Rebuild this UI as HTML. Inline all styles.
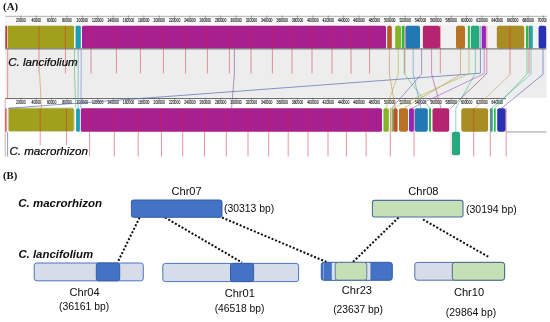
<!DOCTYPE html>
<html lang="en"><head><meta charset="utf-8"><title>Figure</title>
<style>html,body{margin:0;padding:0;background:#fff;}body{width:550px;height:322px;overflow:hidden;}svg{display:block;}.ss{font-family:"Liberation Sans",Arial,sans-serif;}.sf{font-family:"Liberation Serif","Times New Roman",serif;}</style></head><body>
<svg width="550" height="322" viewBox="0 0 550 322">
<rect width="550" height="322" fill="#fff"/>
<g id="panelA">
<rect x="5.3" y="16.0" width="541.2" height="81.8" fill="#ededed"/>
<rect x="5.3" y="16.0" width="541.2" height="33.0" fill="#f1f1f1"/>
<rect x="5.3" y="16.0" width="541.2" height="9.3" fill="#f8f8f8"/>
<line x1="5.3" y1="16.3" x2="546.5" y2="16.3" stroke="#a8a8a8" stroke-width="0.9"/>
<line x1="5.3" y1="98.6" x2="506" y2="98.6" stroke="#606060" stroke-width="1"/>
<clipPath id="cpA"><rect x="5.3" y="0" width="541.2" height="160"/></clipPath>
<g clip-path="url(#cpA)">
<text class="ss" x="16.1" y="21.6" font-size="5.3" textLength="9.5" lengthAdjust="spacingAndGlyphs" fill="#222" stroke="#222" stroke-width="0.15">20000</text>
<line x1="20.9" y1="15.5" x2="20.9" y2="18.900000000000002" stroke="#555" stroke-width="0.6" stroke-opacity="0.8"/>
<text class="ss" x="31.5" y="21.6" font-size="5.3" textLength="9.5" lengthAdjust="spacingAndGlyphs" fill="#222" stroke="#222" stroke-width="0.15">40000</text>
<line x1="36.2" y1="15.5" x2="36.2" y2="18.900000000000002" stroke="#555" stroke-width="0.6" stroke-opacity="0.8"/>
<text class="ss" x="46.9" y="21.6" font-size="5.3" textLength="9.5" lengthAdjust="spacingAndGlyphs" fill="#222" stroke="#222" stroke-width="0.15">60000</text>
<line x1="51.6" y1="15.5" x2="51.6" y2="18.900000000000002" stroke="#555" stroke-width="0.6" stroke-opacity="0.8"/>
<text class="ss" x="62.2" y="21.6" font-size="5.3" textLength="9.5" lengthAdjust="spacingAndGlyphs" fill="#222" stroke="#222" stroke-width="0.15">80000</text>
<line x1="67.0" y1="15.5" x2="67.0" y2="18.900000000000002" stroke="#555" stroke-width="0.6" stroke-opacity="0.8"/>
<text class="ss" x="76.6" y="21.6" font-size="5.3" textLength="11.4" lengthAdjust="spacingAndGlyphs" fill="#222" stroke="#222" stroke-width="0.15">100000</text>
<line x1="82.3" y1="15.5" x2="82.3" y2="18.900000000000002" stroke="#555" stroke-width="0.6" stroke-opacity="0.8"/>
<text class="ss" x="92.0" y="21.6" font-size="5.3" textLength="11.4" lengthAdjust="spacingAndGlyphs" fill="#222" stroke="#222" stroke-width="0.15">120000</text>
<line x1="97.7" y1="15.5" x2="97.7" y2="18.900000000000002" stroke="#555" stroke-width="0.6" stroke-opacity="0.8"/>
<text class="ss" x="107.4" y="21.6" font-size="5.3" textLength="11.4" lengthAdjust="spacingAndGlyphs" fill="#222" stroke="#222" stroke-width="0.15">140000</text>
<line x1="113.1" y1="15.5" x2="113.1" y2="18.900000000000002" stroke="#555" stroke-width="0.6" stroke-opacity="0.8"/>
<text class="ss" x="122.8" y="21.6" font-size="5.3" textLength="11.4" lengthAdjust="spacingAndGlyphs" fill="#222" stroke="#222" stroke-width="0.15">160000</text>
<line x1="128.5" y1="15.5" x2="128.5" y2="18.900000000000002" stroke="#555" stroke-width="0.6" stroke-opacity="0.8"/>
<text class="ss" x="138.1" y="21.6" font-size="5.3" textLength="11.4" lengthAdjust="spacingAndGlyphs" fill="#222" stroke="#222" stroke-width="0.15">180000</text>
<line x1="143.8" y1="15.5" x2="143.8" y2="18.900000000000002" stroke="#555" stroke-width="0.6" stroke-opacity="0.8"/>
<text class="ss" x="153.5" y="21.6" font-size="5.3" textLength="11.4" lengthAdjust="spacingAndGlyphs" fill="#222" stroke="#222" stroke-width="0.15">200000</text>
<line x1="159.2" y1="15.5" x2="159.2" y2="18.900000000000002" stroke="#555" stroke-width="0.6" stroke-opacity="0.8"/>
<text class="ss" x="168.9" y="21.6" font-size="5.3" textLength="11.4" lengthAdjust="spacingAndGlyphs" fill="#222" stroke="#222" stroke-width="0.15">220000</text>
<line x1="174.6" y1="15.5" x2="174.6" y2="18.900000000000002" stroke="#555" stroke-width="0.6" stroke-opacity="0.8"/>
<text class="ss" x="184.2" y="21.6" font-size="5.3" textLength="11.4" lengthAdjust="spacingAndGlyphs" fill="#222" stroke="#222" stroke-width="0.15">240000</text>
<line x1="189.9" y1="15.5" x2="189.9" y2="18.900000000000002" stroke="#555" stroke-width="0.6" stroke-opacity="0.8"/>
<text class="ss" x="199.6" y="21.6" font-size="5.3" textLength="11.4" lengthAdjust="spacingAndGlyphs" fill="#222" stroke="#222" stroke-width="0.15">260000</text>
<line x1="205.3" y1="15.5" x2="205.3" y2="18.900000000000002" stroke="#555" stroke-width="0.6" stroke-opacity="0.8"/>
<text class="ss" x="215.0" y="21.6" font-size="5.3" textLength="11.4" lengthAdjust="spacingAndGlyphs" fill="#222" stroke="#222" stroke-width="0.15">280000</text>
<line x1="220.7" y1="15.5" x2="220.7" y2="18.900000000000002" stroke="#555" stroke-width="0.6" stroke-opacity="0.8"/>
<text class="ss" x="230.3" y="21.6" font-size="5.3" textLength="11.4" lengthAdjust="spacingAndGlyphs" fill="#222" stroke="#222" stroke-width="0.15">300000</text>
<line x1="236.0" y1="15.5" x2="236.0" y2="18.900000000000002" stroke="#555" stroke-width="0.6" stroke-opacity="0.8"/>
<text class="ss" x="245.7" y="21.6" font-size="5.3" textLength="11.4" lengthAdjust="spacingAndGlyphs" fill="#222" stroke="#222" stroke-width="0.15">320000</text>
<line x1="251.4" y1="15.5" x2="251.4" y2="18.900000000000002" stroke="#555" stroke-width="0.6" stroke-opacity="0.8"/>
<text class="ss" x="261.1" y="21.6" font-size="5.3" textLength="11.4" lengthAdjust="spacingAndGlyphs" fill="#222" stroke="#222" stroke-width="0.15">340000</text>
<line x1="266.8" y1="15.5" x2="266.8" y2="18.900000000000002" stroke="#555" stroke-width="0.6" stroke-opacity="0.8"/>
<text class="ss" x="276.5" y="21.6" font-size="5.3" textLength="11.4" lengthAdjust="spacingAndGlyphs" fill="#222" stroke="#222" stroke-width="0.15">360000</text>
<line x1="282.2" y1="15.5" x2="282.2" y2="18.900000000000002" stroke="#555" stroke-width="0.6" stroke-opacity="0.8"/>
<text class="ss" x="291.8" y="21.6" font-size="5.3" textLength="11.4" lengthAdjust="spacingAndGlyphs" fill="#222" stroke="#222" stroke-width="0.15">380000</text>
<line x1="297.5" y1="15.5" x2="297.5" y2="18.900000000000002" stroke="#555" stroke-width="0.6" stroke-opacity="0.8"/>
<text class="ss" x="307.2" y="21.6" font-size="5.3" textLength="11.4" lengthAdjust="spacingAndGlyphs" fill="#222" stroke="#222" stroke-width="0.15">400000</text>
<line x1="312.9" y1="15.5" x2="312.9" y2="18.900000000000002" stroke="#555" stroke-width="0.6" stroke-opacity="0.8"/>
<text class="ss" x="322.6" y="21.6" font-size="5.3" textLength="11.4" lengthAdjust="spacingAndGlyphs" fill="#222" stroke="#222" stroke-width="0.15">420000</text>
<line x1="328.3" y1="15.5" x2="328.3" y2="18.900000000000002" stroke="#555" stroke-width="0.6" stroke-opacity="0.8"/>
<text class="ss" x="337.9" y="21.6" font-size="5.3" textLength="11.4" lengthAdjust="spacingAndGlyphs" fill="#222" stroke="#222" stroke-width="0.15">440000</text>
<line x1="343.6" y1="15.5" x2="343.6" y2="18.900000000000002" stroke="#555" stroke-width="0.6" stroke-opacity="0.8"/>
<text class="ss" x="353.3" y="21.6" font-size="5.3" textLength="11.4" lengthAdjust="spacingAndGlyphs" fill="#222" stroke="#222" stroke-width="0.15">460000</text>
<line x1="359.0" y1="15.5" x2="359.0" y2="18.900000000000002" stroke="#555" stroke-width="0.6" stroke-opacity="0.8"/>
<text class="ss" x="368.7" y="21.6" font-size="5.3" textLength="11.4" lengthAdjust="spacingAndGlyphs" fill="#222" stroke="#222" stroke-width="0.15">480000</text>
<line x1="374.4" y1="15.5" x2="374.4" y2="18.900000000000002" stroke="#555" stroke-width="0.6" stroke-opacity="0.8"/>
<text class="ss" x="384.1" y="21.6" font-size="5.3" textLength="11.4" lengthAdjust="spacingAndGlyphs" fill="#222" stroke="#222" stroke-width="0.15">500000</text>
<line x1="389.8" y1="15.5" x2="389.8" y2="18.900000000000002" stroke="#555" stroke-width="0.6" stroke-opacity="0.8"/>
<text class="ss" x="399.4" y="21.6" font-size="5.3" textLength="11.4" lengthAdjust="spacingAndGlyphs" fill="#222" stroke="#222" stroke-width="0.15">520000</text>
<line x1="405.1" y1="15.5" x2="405.1" y2="18.900000000000002" stroke="#555" stroke-width="0.6" stroke-opacity="0.8"/>
<text class="ss" x="414.8" y="21.6" font-size="5.3" textLength="11.4" lengthAdjust="spacingAndGlyphs" fill="#222" stroke="#222" stroke-width="0.15">540000</text>
<line x1="420.5" y1="15.5" x2="420.5" y2="18.900000000000002" stroke="#555" stroke-width="0.6" stroke-opacity="0.8"/>
<text class="ss" x="430.2" y="21.6" font-size="5.3" textLength="11.4" lengthAdjust="spacingAndGlyphs" fill="#222" stroke="#222" stroke-width="0.15">560000</text>
<line x1="435.9" y1="15.5" x2="435.9" y2="18.900000000000002" stroke="#555" stroke-width="0.6" stroke-opacity="0.8"/>
<text class="ss" x="445.5" y="21.6" font-size="5.3" textLength="11.4" lengthAdjust="spacingAndGlyphs" fill="#222" stroke="#222" stroke-width="0.15">580000</text>
<line x1="451.2" y1="15.5" x2="451.2" y2="18.900000000000002" stroke="#555" stroke-width="0.6" stroke-opacity="0.8"/>
<text class="ss" x="460.9" y="21.6" font-size="5.3" textLength="11.4" lengthAdjust="spacingAndGlyphs" fill="#222" stroke="#222" stroke-width="0.15">600000</text>
<line x1="466.6" y1="15.5" x2="466.6" y2="18.900000000000002" stroke="#555" stroke-width="0.6" stroke-opacity="0.8"/>
<text class="ss" x="476.3" y="21.6" font-size="5.3" textLength="11.4" lengthAdjust="spacingAndGlyphs" fill="#222" stroke="#222" stroke-width="0.15">620000</text>
<line x1="482.0" y1="15.5" x2="482.0" y2="18.900000000000002" stroke="#555" stroke-width="0.6" stroke-opacity="0.8"/>
<text class="ss" x="491.6" y="21.6" font-size="5.3" textLength="11.4" lengthAdjust="spacingAndGlyphs" fill="#222" stroke="#222" stroke-width="0.15">640000</text>
<line x1="497.3" y1="15.5" x2="497.3" y2="18.900000000000002" stroke="#555" stroke-width="0.6" stroke-opacity="0.8"/>
<text class="ss" x="507.0" y="21.6" font-size="5.3" textLength="11.4" lengthAdjust="spacingAndGlyphs" fill="#222" stroke="#222" stroke-width="0.15">660000</text>
<line x1="512.7" y1="15.5" x2="512.7" y2="18.900000000000002" stroke="#555" stroke-width="0.6" stroke-opacity="0.8"/>
<text class="ss" x="522.4" y="21.6" font-size="5.3" textLength="11.4" lengthAdjust="spacingAndGlyphs" fill="#222" stroke="#222" stroke-width="0.15">680000</text>
<line x1="528.1" y1="15.5" x2="528.1" y2="18.900000000000002" stroke="#555" stroke-width="0.6" stroke-opacity="0.8"/>
<text class="ss" x="537.7" y="21.6" font-size="5.3" textLength="11.4" lengthAdjust="spacingAndGlyphs" fill="#222" stroke="#222" stroke-width="0.15">700000</text>
<line x1="543.4" y1="15.5" x2="543.4" y2="18.900000000000002" stroke="#555" stroke-width="0.6" stroke-opacity="0.8"/>
<text class="ss" x="16.1" y="103.9" font-size="5.3" textLength="9.5" lengthAdjust="spacingAndGlyphs" fill="#222" stroke="#222" stroke-width="0.15">20000</text>
<line x1="20.9" y1="97.8" x2="20.9" y2="101.19999999999999" stroke="#555" stroke-width="0.6" stroke-opacity="0.8"/>
<text class="ss" x="31.5" y="103.9" font-size="5.3" textLength="9.5" lengthAdjust="spacingAndGlyphs" fill="#222" stroke="#222" stroke-width="0.15">40000</text>
<line x1="36.2" y1="97.8" x2="36.2" y2="101.19999999999999" stroke="#555" stroke-width="0.6" stroke-opacity="0.8"/>
<text class="ss" x="46.9" y="103.9" font-size="5.3" textLength="9.5" lengthAdjust="spacingAndGlyphs" fill="#222" stroke="#222" stroke-width="0.15">60000</text>
<line x1="51.6" y1="97.8" x2="51.6" y2="101.19999999999999" stroke="#555" stroke-width="0.6" stroke-opacity="0.8"/>
<text class="ss" x="62.2" y="103.9" font-size="5.3" textLength="9.5" lengthAdjust="spacingAndGlyphs" fill="#222" stroke="#222" stroke-width="0.15">80000</text>
<line x1="67.0" y1="97.8" x2="67.0" y2="101.19999999999999" stroke="#555" stroke-width="0.6" stroke-opacity="0.8"/>
<text class="ss" x="76.6" y="103.9" font-size="5.3" textLength="11.4" lengthAdjust="spacingAndGlyphs" fill="#222" stroke="#222" stroke-width="0.15">100000</text>
<line x1="82.3" y1="97.8" x2="82.3" y2="101.19999999999999" stroke="#555" stroke-width="0.6" stroke-opacity="0.8"/>
<text class="ss" x="92.0" y="103.9" font-size="5.3" textLength="11.4" lengthAdjust="spacingAndGlyphs" fill="#222" stroke="#222" stroke-width="0.15">120000</text>
<line x1="97.7" y1="97.8" x2="97.7" y2="101.19999999999999" stroke="#555" stroke-width="0.6" stroke-opacity="0.8"/>
<text class="ss" x="107.4" y="103.9" font-size="5.3" textLength="11.4" lengthAdjust="spacingAndGlyphs" fill="#222" stroke="#222" stroke-width="0.15">140000</text>
<line x1="113.1" y1="97.8" x2="113.1" y2="101.19999999999999" stroke="#555" stroke-width="0.6" stroke-opacity="0.8"/>
<text class="ss" x="122.8" y="103.9" font-size="5.3" textLength="11.4" lengthAdjust="spacingAndGlyphs" fill="#222" stroke="#222" stroke-width="0.15">160000</text>
<line x1="128.5" y1="97.8" x2="128.5" y2="101.19999999999999" stroke="#555" stroke-width="0.6" stroke-opacity="0.8"/>
<text class="ss" x="138.1" y="103.9" font-size="5.3" textLength="11.4" lengthAdjust="spacingAndGlyphs" fill="#222" stroke="#222" stroke-width="0.15">180000</text>
<line x1="143.8" y1="97.8" x2="143.8" y2="101.19999999999999" stroke="#555" stroke-width="0.6" stroke-opacity="0.8"/>
<text class="ss" x="153.5" y="103.9" font-size="5.3" textLength="11.4" lengthAdjust="spacingAndGlyphs" fill="#222" stroke="#222" stroke-width="0.15">200000</text>
<line x1="159.2" y1="97.8" x2="159.2" y2="101.19999999999999" stroke="#555" stroke-width="0.6" stroke-opacity="0.8"/>
<text class="ss" x="168.9" y="103.9" font-size="5.3" textLength="11.4" lengthAdjust="spacingAndGlyphs" fill="#222" stroke="#222" stroke-width="0.15">220000</text>
<line x1="174.6" y1="97.8" x2="174.6" y2="101.19999999999999" stroke="#555" stroke-width="0.6" stroke-opacity="0.8"/>
<text class="ss" x="184.2" y="103.9" font-size="5.3" textLength="11.4" lengthAdjust="spacingAndGlyphs" fill="#222" stroke="#222" stroke-width="0.15">240000</text>
<line x1="189.9" y1="97.8" x2="189.9" y2="101.19999999999999" stroke="#555" stroke-width="0.6" stroke-opacity="0.8"/>
<text class="ss" x="199.6" y="103.9" font-size="5.3" textLength="11.4" lengthAdjust="spacingAndGlyphs" fill="#222" stroke="#222" stroke-width="0.15">260000</text>
<line x1="205.3" y1="97.8" x2="205.3" y2="101.19999999999999" stroke="#555" stroke-width="0.6" stroke-opacity="0.8"/>
<text class="ss" x="215.0" y="103.9" font-size="5.3" textLength="11.4" lengthAdjust="spacingAndGlyphs" fill="#222" stroke="#222" stroke-width="0.15">280000</text>
<line x1="220.7" y1="97.8" x2="220.7" y2="101.19999999999999" stroke="#555" stroke-width="0.6" stroke-opacity="0.8"/>
<text class="ss" x="230.3" y="103.9" font-size="5.3" textLength="11.4" lengthAdjust="spacingAndGlyphs" fill="#222" stroke="#222" stroke-width="0.15">300000</text>
<line x1="236.0" y1="97.8" x2="236.0" y2="101.19999999999999" stroke="#555" stroke-width="0.6" stroke-opacity="0.8"/>
<text class="ss" x="245.7" y="103.9" font-size="5.3" textLength="11.4" lengthAdjust="spacingAndGlyphs" fill="#222" stroke="#222" stroke-width="0.15">320000</text>
<line x1="251.4" y1="97.8" x2="251.4" y2="101.19999999999999" stroke="#555" stroke-width="0.6" stroke-opacity="0.8"/>
<text class="ss" x="261.1" y="103.9" font-size="5.3" textLength="11.4" lengthAdjust="spacingAndGlyphs" fill="#222" stroke="#222" stroke-width="0.15">340000</text>
<line x1="266.8" y1="97.8" x2="266.8" y2="101.19999999999999" stroke="#555" stroke-width="0.6" stroke-opacity="0.8"/>
<text class="ss" x="276.5" y="103.9" font-size="5.3" textLength="11.4" lengthAdjust="spacingAndGlyphs" fill="#222" stroke="#222" stroke-width="0.15">360000</text>
<line x1="282.2" y1="97.8" x2="282.2" y2="101.19999999999999" stroke="#555" stroke-width="0.6" stroke-opacity="0.8"/>
<text class="ss" x="291.8" y="103.9" font-size="5.3" textLength="11.4" lengthAdjust="spacingAndGlyphs" fill="#222" stroke="#222" stroke-width="0.15">380000</text>
<line x1="297.5" y1="97.8" x2="297.5" y2="101.19999999999999" stroke="#555" stroke-width="0.6" stroke-opacity="0.8"/>
<text class="ss" x="307.2" y="103.9" font-size="5.3" textLength="11.4" lengthAdjust="spacingAndGlyphs" fill="#222" stroke="#222" stroke-width="0.15">400000</text>
<line x1="312.9" y1="97.8" x2="312.9" y2="101.19999999999999" stroke="#555" stroke-width="0.6" stroke-opacity="0.8"/>
<text class="ss" x="322.6" y="103.9" font-size="5.3" textLength="11.4" lengthAdjust="spacingAndGlyphs" fill="#222" stroke="#222" stroke-width="0.15">420000</text>
<line x1="328.3" y1="97.8" x2="328.3" y2="101.19999999999999" stroke="#555" stroke-width="0.6" stroke-opacity="0.8"/>
<text class="ss" x="337.9" y="103.9" font-size="5.3" textLength="11.4" lengthAdjust="spacingAndGlyphs" fill="#222" stroke="#222" stroke-width="0.15">440000</text>
<line x1="343.6" y1="97.8" x2="343.6" y2="101.19999999999999" stroke="#555" stroke-width="0.6" stroke-opacity="0.8"/>
<text class="ss" x="353.3" y="103.9" font-size="5.3" textLength="11.4" lengthAdjust="spacingAndGlyphs" fill="#222" stroke="#222" stroke-width="0.15">460000</text>
<line x1="359.0" y1="97.8" x2="359.0" y2="101.19999999999999" stroke="#555" stroke-width="0.6" stroke-opacity="0.8"/>
<text class="ss" x="368.7" y="103.9" font-size="5.3" textLength="11.4" lengthAdjust="spacingAndGlyphs" fill="#222" stroke="#222" stroke-width="0.15">480000</text>
<line x1="374.4" y1="97.8" x2="374.4" y2="101.19999999999999" stroke="#555" stroke-width="0.6" stroke-opacity="0.8"/>
<text class="ss" x="384.1" y="103.9" font-size="5.3" textLength="11.4" lengthAdjust="spacingAndGlyphs" fill="#222" stroke="#222" stroke-width="0.15">500000</text>
<line x1="389.8" y1="97.8" x2="389.8" y2="101.19999999999999" stroke="#555" stroke-width="0.6" stroke-opacity="0.8"/>
<text class="ss" x="399.4" y="103.9" font-size="5.3" textLength="11.4" lengthAdjust="spacingAndGlyphs" fill="#222" stroke="#222" stroke-width="0.15">520000</text>
<line x1="405.1" y1="97.8" x2="405.1" y2="101.19999999999999" stroke="#555" stroke-width="0.6" stroke-opacity="0.8"/>
<text class="ss" x="414.8" y="103.9" font-size="5.3" textLength="11.4" lengthAdjust="spacingAndGlyphs" fill="#222" stroke="#222" stroke-width="0.15">540000</text>
<line x1="420.5" y1="97.8" x2="420.5" y2="101.19999999999999" stroke="#555" stroke-width="0.6" stroke-opacity="0.8"/>
<text class="ss" x="430.2" y="103.9" font-size="5.3" textLength="11.4" lengthAdjust="spacingAndGlyphs" fill="#222" stroke="#222" stroke-width="0.15">560000</text>
<line x1="435.9" y1="97.8" x2="435.9" y2="101.19999999999999" stroke="#555" stroke-width="0.6" stroke-opacity="0.8"/>
<text class="ss" x="445.5" y="103.9" font-size="5.3" textLength="11.4" lengthAdjust="spacingAndGlyphs" fill="#222" stroke="#222" stroke-width="0.15">580000</text>
<line x1="451.2" y1="97.8" x2="451.2" y2="101.19999999999999" stroke="#555" stroke-width="0.6" stroke-opacity="0.8"/>
<text class="ss" x="460.9" y="103.9" font-size="5.3" textLength="11.4" lengthAdjust="spacingAndGlyphs" fill="#222" stroke="#222" stroke-width="0.15">600000</text>
<line x1="466.6" y1="97.8" x2="466.6" y2="101.19999999999999" stroke="#555" stroke-width="0.6" stroke-opacity="0.8"/>
<text class="ss" x="476.3" y="103.9" font-size="5.3" textLength="11.4" lengthAdjust="spacingAndGlyphs" fill="#222" stroke="#222" stroke-width="0.15">620000</text>
<line x1="482.0" y1="97.8" x2="482.0" y2="101.19999999999999" stroke="#555" stroke-width="0.6" stroke-opacity="0.8"/>
<text class="ss" x="491.6" y="103.9" font-size="5.3" textLength="11.4" lengthAdjust="spacingAndGlyphs" fill="#222" stroke="#222" stroke-width="0.15">640000</text>
<line x1="497.3" y1="97.8" x2="497.3" y2="101.19999999999999" stroke="#555" stroke-width="0.6" stroke-opacity="0.8"/>
</g>
<rect x="5.3" y="25.8" width="1.7" height="23.0" rx="0.3" ry="0.3" fill="#c8373c"/>
<rect x="7.6" y="25.8" width="66.4" height="23.0" rx="1.2" ry="1.2" fill="#a0a01c"/>
<rect x="75.6" y="25.8" width="5.2" height="23.0" rx="1.4" ry="1.4" fill="#1c9eb4"/>
<rect x="82.0" y="25.8" width="304.0" height="23.0" rx="1.6" ry="1.6" fill="#a81f90"/>
<rect x="387.2" y="25.8" width="4.6" height="23.0" rx="1.6" ry="1.6" fill="#bc5428"/>
<rect x="395.2" y="25.8" width="5.8" height="23.0" rx="1.6" ry="1.6" fill="#86b428"/>
<rect x="401.8" y="25.8" width="2.4" height="23.0" rx="0.8" ry="0.8" fill="#2cba3c"/>
<rect x="405.5" y="25.8" width="14.5" height="23.0" rx="2.0" ry="2.0" fill="#2278b4"/>
<rect x="422.9" y="25.8" width="17.1" height="23.0" rx="2.0" ry="2.0" fill="#b42470"/>
<rect x="456.0" y="25.8" width="9.0" height="23.0" rx="2.0" ry="2.0" fill="#b87424"/>
<rect x="467.9" y="25.8" width="1.9" height="23.0" rx="0.6" ry="0.6" fill="#2cba3c"/>
<rect x="470.8" y="25.8" width="8.5" height="23.0" rx="1.6" ry="1.6" fill="#24aa7c"/>
<rect x="479.6" y="25.8" width="1.7" height="23.0" rx="0.5" ry="0.5" fill="#a8b4d0"/>
<rect x="481.8" y="25.8" width="4.1" height="23.0" rx="1.6" ry="1.6" fill="#9824c0"/>
<rect x="496.8" y="25.8" width="27.4" height="23.0" rx="2.2" ry="2.2" fill="#aa8c24"/>
<rect x="526.0" y="25.8" width="2.0" height="23.0" rx="0.6" ry="0.6" fill="#2cba3c"/>
<rect x="528.7" y="25.8" width="4.1" height="23.0" rx="1.2" ry="1.2" fill="#20aaa2"/>
<rect x="538.6" y="25.8" width="7.6" height="23.0" rx="2.0" ry="2.0" fill="#2830b4"/>
<line x1="5.3" y1="48.9" x2="546.5" y2="48.9" stroke="#808080" stroke-width="1.3"/>
<line x1="39.0" y1="25.8" x2="39.0" y2="49.0" stroke="#e02030" stroke-width="0.8" stroke-opacity="0.6"/>
<line x1="39.0" y1="49.0" x2="39.0" y2="73.5" stroke="#d04858" stroke-width="0.8" stroke-opacity="0.72"/>
<line x1="65.4" y1="25.8" x2="65.4" y2="49.0" stroke="#e02030" stroke-width="0.8" stroke-opacity="0.6"/>
<line x1="65.4" y1="49.0" x2="65.4" y2="73.5" stroke="#d04858" stroke-width="0.8" stroke-opacity="0.72"/>
<line x1="91.0" y1="25.8" x2="91.0" y2="49.0" stroke="#e02030" stroke-width="0.8" stroke-opacity="0.6"/>
<line x1="91.0" y1="49.0" x2="91.0" y2="73.5" stroke="#d04858" stroke-width="0.8" stroke-opacity="0.72"/>
<line x1="116.4" y1="25.8" x2="116.4" y2="49.0" stroke="#e02030" stroke-width="0.8" stroke-opacity="0.6"/>
<line x1="116.4" y1="49.0" x2="116.4" y2="73.5" stroke="#d04858" stroke-width="0.8" stroke-opacity="0.72"/>
<line x1="140.4" y1="25.8" x2="140.4" y2="49.0" stroke="#e02030" stroke-width="0.8" stroke-opacity="0.6"/>
<line x1="140.4" y1="49.0" x2="140.4" y2="73.5" stroke="#d04858" stroke-width="0.8" stroke-opacity="0.72"/>
<line x1="163.4" y1="25.8" x2="163.4" y2="49.0" stroke="#e02030" stroke-width="0.8" stroke-opacity="0.6"/>
<line x1="163.4" y1="49.0" x2="163.4" y2="73.5" stroke="#d04858" stroke-width="0.8" stroke-opacity="0.72"/>
<line x1="185.6" y1="25.8" x2="185.6" y2="49.0" stroke="#e02030" stroke-width="0.8" stroke-opacity="0.6"/>
<line x1="185.6" y1="49.0" x2="185.6" y2="73.5" stroke="#d04858" stroke-width="0.8" stroke-opacity="0.72"/>
<line x1="207.4" y1="25.8" x2="207.4" y2="49.0" stroke="#e02030" stroke-width="0.8" stroke-opacity="0.6"/>
<line x1="207.4" y1="49.0" x2="207.4" y2="73.5" stroke="#d04858" stroke-width="0.8" stroke-opacity="0.72"/>
<line x1="229.4" y1="25.8" x2="229.4" y2="49.0" stroke="#e02030" stroke-width="0.8" stroke-opacity="0.6"/>
<line x1="229.4" y1="49.0" x2="229.4" y2="73.5" stroke="#d04858" stroke-width="0.8" stroke-opacity="0.72"/>
<line x1="251.0" y1="25.8" x2="251.0" y2="49.0" stroke="#e02030" stroke-width="0.8" stroke-opacity="0.6"/>
<line x1="251.0" y1="49.0" x2="251.0" y2="73.5" stroke="#d04858" stroke-width="0.8" stroke-opacity="0.72"/>
<line x1="272.4" y1="25.8" x2="272.4" y2="49.0" stroke="#e02030" stroke-width="0.8" stroke-opacity="0.6"/>
<line x1="272.4" y1="49.0" x2="272.4" y2="73.5" stroke="#d04858" stroke-width="0.8" stroke-opacity="0.72"/>
<line x1="292.0" y1="25.8" x2="292.0" y2="49.0" stroke="#e02030" stroke-width="0.8" stroke-opacity="0.6"/>
<line x1="292.0" y1="49.0" x2="292.0" y2="73.5" stroke="#d04858" stroke-width="0.8" stroke-opacity="0.72"/>
<line x1="312.0" y1="25.8" x2="312.0" y2="49.0" stroke="#e02030" stroke-width="0.8" stroke-opacity="0.6"/>
<line x1="312.0" y1="49.0" x2="312.0" y2="73.5" stroke="#d04858" stroke-width="0.8" stroke-opacity="0.72"/>
<line x1="332.0" y1="25.8" x2="332.0" y2="49.0" stroke="#e02030" stroke-width="0.8" stroke-opacity="0.6"/>
<line x1="332.0" y1="49.0" x2="332.0" y2="73.5" stroke="#d04858" stroke-width="0.8" stroke-opacity="0.72"/>
<line x1="351.0" y1="25.8" x2="351.0" y2="49.0" stroke="#e02030" stroke-width="0.8" stroke-opacity="0.6"/>
<line x1="351.0" y1="49.0" x2="351.0" y2="73.5" stroke="#d04858" stroke-width="0.8" stroke-opacity="0.72"/>
<line x1="369.6" y1="25.8" x2="369.6" y2="49.0" stroke="#e02030" stroke-width="0.8" stroke-opacity="0.6"/>
<line x1="369.6" y1="49.0" x2="369.6" y2="73.5" stroke="#d04858" stroke-width="0.8" stroke-opacity="0.72"/>
<line x1="404.8" y1="25.8" x2="404.8" y2="49.0" stroke="#e02030" stroke-width="0.8" stroke-opacity="0.6"/>
<line x1="404.8" y1="49.0" x2="404.8" y2="73.5" stroke="#d04858" stroke-width="0.8" stroke-opacity="0.72"/>
<line x1="440.3" y1="25.8" x2="440.3" y2="49.0" stroke="#e02030" stroke-width="0.8" stroke-opacity="0.6"/>
<line x1="440.3" y1="49.0" x2="440.3" y2="73.5" stroke="#d04858" stroke-width="0.8" stroke-opacity="0.72"/>
<line x1="486.8" y1="25.8" x2="486.8" y2="49.0" stroke="#e02030" stroke-width="0.8" stroke-opacity="0.6"/>
<line x1="486.8" y1="49.0" x2="486.8" y2="73.5" stroke="#d04858" stroke-width="0.8" stroke-opacity="0.72"/>
<line x1="510.0" y1="25.8" x2="510.0" y2="49.0" stroke="#e02030" stroke-width="0.8" stroke-opacity="0.6"/>
<line x1="510.0" y1="49.0" x2="510.0" y2="73.5" stroke="#d04858" stroke-width="0.8" stroke-opacity="0.72"/>
<line x1="529.0" y1="25.8" x2="529.0" y2="49.0" stroke="#e02030" stroke-width="0.8" stroke-opacity="0.6"/>
<line x1="529.0" y1="49.0" x2="529.0" y2="73.5" stroke="#d04858" stroke-width="0.8" stroke-opacity="0.72"/>
<line x1="506.2" y1="131.9" x2="546.5" y2="131.9" stroke="#c6c6c6" stroke-width="1.7"/>
<rect x="5.0" y="108.3" width="1.5" height="23.5" rx="0.3" ry="0.3" fill="#c8373c"/>
<rect x="80.8" y="108.3" width="301.2" height="23.5" rx="1.6" ry="1.6" fill="#a81f90"/>
<rect x="383.4" y="108.3" width="5.4" height="23.5" rx="1.6" ry="1.6" fill="#86b428"/>
<rect x="390.8" y="108.3" width="0.7" height="23.5" rx="0.2" ry="0.2" fill="#86b428"/>
<rect x="392.0" y="108.3" width="0.8" height="23.5" rx="0.2" ry="0.2" fill="#2cba3c"/>
<rect x="393.2" y="108.3" width="4.4" height="23.5" rx="1.6" ry="1.6" fill="#bc5428"/>
<rect x="399.0" y="108.3" width="9.0" height="23.5" rx="2.0" ry="2.0" fill="#b87424"/>
<rect x="409.0" y="108.3" width="4.9" height="23.5" rx="1.8" ry="1.8" fill="#9824c0"/>
<rect x="414.7" y="108.3" width="13.1" height="23.5" rx="2.0" ry="2.0" fill="#2278b4"/>
<rect x="429.0" y="108.3" width="2.0" height="23.5" rx="0.7" ry="0.7" fill="#2cba3c"/>
<rect x="432.5" y="108.3" width="16.7" height="23.5" rx="2.0" ry="2.0" fill="#b42470"/>
<rect x="461.3" y="108.3" width="26.8" height="23.5" rx="2.2" ry="2.2" fill="#aa8c24"/>
<rect x="490.2" y="108.3" width="2.6" height="23.5" rx="1.0" ry="1.0" fill="#20aaa2"/>
<rect x="494.0" y="108.3" width="1.7" height="23.5" rx="0.6" ry="0.6" fill="#2cba3c"/>
<rect x="497.2" y="108.3" width="8.4" height="23.5" rx="2.2" ry="2.2" fill="#2830b4"/>
<rect x="8.2" y="107.9" width="66.0" height="23.7" rx="2.0" ry="2.0" fill="#a0a01c" stroke="#d4d8c4" stroke-width="1"/>
<rect x="76.1" y="108.3" width="3.8" height="23.5" rx="1.6" ry="1.6" fill="#1c9eb4"/>
<rect x="452.0" y="131.8" width="8.0" height="23.4" rx="1.8" ry="1.8" fill="#24aa7c"/>
<line x1="40.2" y1="108.3" x2="40.2" y2="131.8" stroke="#e02030" stroke-width="0.8" stroke-opacity="0.6"/>
<line x1="40.2" y1="131.8" x2="40.2" y2="156.5" stroke="#d04858" stroke-width="0.8" stroke-opacity="0.72"/>
<line x1="66.4" y1="108.3" x2="66.4" y2="131.8" stroke="#e02030" stroke-width="0.8" stroke-opacity="0.6"/>
<line x1="66.4" y1="131.8" x2="66.4" y2="156.5" stroke="#d04858" stroke-width="0.8" stroke-opacity="0.72"/>
<line x1="89.6" y1="108.3" x2="89.6" y2="131.8" stroke="#e02030" stroke-width="0.8" stroke-opacity="0.6"/>
<line x1="89.6" y1="131.8" x2="89.6" y2="156.5" stroke="#d04858" stroke-width="0.8" stroke-opacity="0.72"/>
<line x1="114.3" y1="108.3" x2="114.3" y2="131.8" stroke="#e02030" stroke-width="0.8" stroke-opacity="0.6"/>
<line x1="114.3" y1="131.8" x2="114.3" y2="156.5" stroke="#d04858" stroke-width="0.8" stroke-opacity="0.72"/>
<line x1="138.2" y1="108.3" x2="138.2" y2="131.8" stroke="#e02030" stroke-width="0.8" stroke-opacity="0.6"/>
<line x1="138.2" y1="131.8" x2="138.2" y2="156.5" stroke="#d04858" stroke-width="0.8" stroke-opacity="0.72"/>
<line x1="161.5" y1="108.3" x2="161.5" y2="131.8" stroke="#e02030" stroke-width="0.8" stroke-opacity="0.6"/>
<line x1="161.5" y1="131.8" x2="161.5" y2="156.5" stroke="#d04858" stroke-width="0.8" stroke-opacity="0.72"/>
<line x1="182.7" y1="108.3" x2="182.7" y2="131.8" stroke="#e02030" stroke-width="0.8" stroke-opacity="0.6"/>
<line x1="182.7" y1="131.8" x2="182.7" y2="156.5" stroke="#d04858" stroke-width="0.8" stroke-opacity="0.72"/>
<line x1="204.5" y1="108.3" x2="204.5" y2="131.8" stroke="#e02030" stroke-width="0.8" stroke-opacity="0.6"/>
<line x1="204.5" y1="131.8" x2="204.5" y2="156.5" stroke="#d04858" stroke-width="0.8" stroke-opacity="0.72"/>
<line x1="226.3" y1="108.3" x2="226.3" y2="131.8" stroke="#e02030" stroke-width="0.8" stroke-opacity="0.6"/>
<line x1="226.3" y1="131.8" x2="226.3" y2="156.5" stroke="#d04858" stroke-width="0.8" stroke-opacity="0.72"/>
<line x1="248.0" y1="108.3" x2="248.0" y2="131.8" stroke="#e02030" stroke-width="0.8" stroke-opacity="0.6"/>
<line x1="248.0" y1="131.8" x2="248.0" y2="156.5" stroke="#d04858" stroke-width="0.8" stroke-opacity="0.72"/>
<line x1="268.7" y1="108.3" x2="268.7" y2="131.8" stroke="#e02030" stroke-width="0.8" stroke-opacity="0.6"/>
<line x1="268.7" y1="131.8" x2="268.7" y2="156.5" stroke="#d04858" stroke-width="0.8" stroke-opacity="0.72"/>
<line x1="288.2" y1="108.3" x2="288.2" y2="131.8" stroke="#e02030" stroke-width="0.8" stroke-opacity="0.6"/>
<line x1="288.2" y1="131.8" x2="288.2" y2="156.5" stroke="#d04858" stroke-width="0.8" stroke-opacity="0.72"/>
<line x1="308.0" y1="108.3" x2="308.0" y2="131.8" stroke="#e02030" stroke-width="0.8" stroke-opacity="0.6"/>
<line x1="308.0" y1="131.8" x2="308.0" y2="156.5" stroke="#d04858" stroke-width="0.8" stroke-opacity="0.72"/>
<line x1="328.0" y1="108.3" x2="328.0" y2="131.8" stroke="#e02030" stroke-width="0.8" stroke-opacity="0.6"/>
<line x1="328.0" y1="131.8" x2="328.0" y2="156.5" stroke="#d04858" stroke-width="0.8" stroke-opacity="0.72"/>
<line x1="346.4" y1="108.3" x2="346.4" y2="131.8" stroke="#e02030" stroke-width="0.8" stroke-opacity="0.6"/>
<line x1="346.4" y1="131.8" x2="346.4" y2="156.5" stroke="#d04858" stroke-width="0.8" stroke-opacity="0.72"/>
<line x1="366.1" y1="108.3" x2="366.1" y2="131.8" stroke="#e02030" stroke-width="0.8" stroke-opacity="0.6"/>
<line x1="366.1" y1="131.8" x2="366.1" y2="156.5" stroke="#d04858" stroke-width="0.8" stroke-opacity="0.72"/>
<line x1="390.3" y1="108.3" x2="390.3" y2="131.8" stroke="#e02030" stroke-width="0.8" stroke-opacity="0.6"/>
<line x1="390.3" y1="131.8" x2="390.3" y2="156.5" stroke="#d04858" stroke-width="0.8" stroke-opacity="0.72"/>
<line x1="414.0" y1="108.3" x2="414.0" y2="131.8" stroke="#e02030" stroke-width="0.8" stroke-opacity="0.6"/>
<line x1="414.0" y1="131.8" x2="414.0" y2="156.5" stroke="#d04858" stroke-width="0.8" stroke-opacity="0.72"/>
<line x1="473.7" y1="108.3" x2="473.7" y2="131.8" stroke="#e02030" stroke-width="0.8" stroke-opacity="0.6"/>
<line x1="473.7" y1="131.8" x2="473.7" y2="156.5" stroke="#d04858" stroke-width="0.8" stroke-opacity="0.72"/>
<line x1="490.3" y1="108.3" x2="490.3" y2="131.8" stroke="#e02030" stroke-width="0.8" stroke-opacity="0.6"/>
<line x1="490.3" y1="131.8" x2="490.3" y2="156.5" stroke="#d04858" stroke-width="0.8" stroke-opacity="0.72"/>
<line x1="506.2" y1="108.3" x2="506.2" y2="131.8" stroke="#e02030" stroke-width="0.8" stroke-opacity="0.6"/>
<line x1="506.2" y1="131.8" x2="506.2" y2="156.5" stroke="#d04858" stroke-width="0.8" stroke-opacity="0.72"/>
<line x1="451.0" y1="131.8" x2="451.0" y2="156.5" stroke="#d8a0a8" stroke-width="0.7" stroke-opacity="0.7"/>
<line x1="5.2" y1="98.6" x2="5.2" y2="156.5" stroke="#d0989c" stroke-width="0.8" stroke-opacity="1"/>
<line x1="7.6" y1="131.8" x2="7.6" y2="156.5" stroke="#5070c8" stroke-width="0.7" stroke-opacity="1"/>
<polyline points="7.7,49.0 7.7,74.0 7.6,98.4" fill="none" stroke="#d05858" stroke-width="0.7" stroke-opacity="0.85"/>
<polyline points="39.6,73.5 39.6,73.5 41.5,108.3" fill="none" stroke="#d09038" stroke-width="0.7" stroke-opacity="0.85"/>
<polyline points="74.5,49.0 74.5,74.0 75.8,108.3" fill="none" stroke="#58b858" stroke-width="0.7" stroke-opacity="0.85"/>
<polyline points="78.2,49.0 78.2,74.0 78.1,108.3" fill="none" stroke="#48a8c0" stroke-width="0.7" stroke-opacity="0.85"/>
<polyline points="81.2,49.0 81.2,74.0 80.9,108.3" fill="none" stroke="#7080c0" stroke-width="0.7" stroke-opacity="0.85"/>
<polyline points="234.4,49.0 234.4,74.0 231.6,108.3" fill="none" stroke="#885090" stroke-width="0.7" stroke-opacity="0.85"/>
<polyline points="480.4,49.0 480.4,73.2 8.0,108.3" fill="none" stroke="#4868b0" stroke-width="0.7" stroke-opacity="0.95"/>
<polyline points="389.4,49.0 389.4,74.0 395.4,108.3" fill="none" stroke="#d08858" stroke-width="0.7" stroke-opacity="0.85"/>
<polyline points="398.3,49.0 398.3,74.0 386.0,108.3" fill="none" stroke="#a0b838" stroke-width="0.7" stroke-opacity="0.85"/>
<polyline points="404.2,49.0 404.2,73.6 430.0,108.3" fill="none" stroke="#48c068" stroke-width="0.7" stroke-opacity="0.85"/>
<polyline points="413.2,49.0 413.2,74.0 421.0,108.3" fill="none" stroke="#5890c8" stroke-width="0.7" stroke-opacity="0.85"/>
<polyline points="421.6,49.0 421.6,74.0 391.6,108.3" fill="none" stroke="#6060a8" stroke-width="0.7" stroke-opacity="0.85"/>
<polyline points="431.6,49.0 431.6,74.0 441.0,108.3" fill="none" stroke="#b04898" stroke-width="0.7" stroke-opacity="0.85"/>
<polyline points="460.5,49.0 460.5,74.6 403.5,108.3" fill="none" stroke="#c09040" stroke-width="0.7" stroke-opacity="0.85"/>
<polyline points="469.0,49.0 469.0,73.6 392.4,108.3" fill="none" stroke="#a8b048" stroke-width="0.7" stroke-opacity="0.85"/>
<polyline points="475.4,49.0 475.4,73.4 455.8,108.3 455.8,131.8" fill="none" stroke="#40b898" stroke-width="0.7" stroke-opacity="0.85"/>
<polyline points="484.2,49.0 484.2,73.6 411.5,108.3" fill="none" stroke="#a050c0" stroke-width="0.7" stroke-opacity="0.85"/>
<polyline points="486.4,73.0 486.4,74.0 450.5,108.3" fill="none" stroke="#804868" stroke-width="0.7" stroke-opacity="0.85"/>
<polyline points="510.3,73.5 510.3,74.4 474.7,108.3" fill="none" stroke="#c0a048" stroke-width="0.7" stroke-opacity="0.85"/>
<polyline points="527.0,49.0 527.0,74.0 494.8,108.3" fill="none" stroke="#48b858" stroke-width="0.7" stroke-opacity="0.85"/>
<polyline points="531.0,49.0 531.0,74.0 491.6,108.3" fill="none" stroke="#48b0b8" stroke-width="0.7" stroke-opacity="0.85"/>
<polyline points="543.0,49.0 543.0,74.4 501.5,108.3" fill="none" stroke="#5050b8" stroke-width="0.7" stroke-opacity="0.85"/>
<text class="ss" x="8.2" y="66" font-size="11.6" font-style="italic" fill="#000" stroke="#000" stroke-width="0.2">C. lancifolium</text>
<rect x="8.6" y="145.2" width="79.6" height="12.4" fill="#fff"/>
<text class="ss" x="9.4" y="155.2" font-size="11.6" font-style="italic" fill="#000" stroke="#000" stroke-width="0.2">C. macrorhizon</text>
</g>
<text class="sf" x="3.1" y="9.7" font-size="10.8" font-weight="bold" fill="#111">(A)</text>
<text class="sf" x="3.1" y="178.7" font-size="10.6" font-weight="bold" fill="#111">(B)</text>
<g id="panelB">
<line x1="139.6" y1="217.5" x2="117.8" y2="262" stroke="#0c0c0c" stroke-width="2" stroke-dasharray="2 1.85"/>
<line x1="165" y1="217.5" x2="242" y2="262.5" stroke="#0c0c0c" stroke-width="2" stroke-dasharray="2 1.85"/>
<line x1="222" y1="217.5" x2="326.5" y2="262" stroke="#0c0c0c" stroke-width="2" stroke-dasharray="2 1.85"/>
<line x1="398.6" y1="217.5" x2="353" y2="262" stroke="#0c0c0c" stroke-width="2" stroke-dasharray="2 1.85"/>
<line x1="423.0" y1="219.5" x2="489.6" y2="257.5" stroke="#0c0c0c" stroke-width="2" stroke-dasharray="2 1.85"/>
<rect x="131.4" y="200.0" width="90.6" height="17.3" rx="2" ry="2" fill="#4472c4" stroke="#355ca8" stroke-width="1.0"/>
<rect x="372.4" y="200.4" width="90.6" height="16.6" rx="2.2" ry="2.2" fill="#c5e0b4" stroke="#4e6ea4" stroke-width="1.1"/>
<rect x="34.2" y="263.0" width="109.1" height="17.8" rx="2.6" ry="2.6" fill="#d6dce8" stroke="#4c74c0" stroke-width="1.0"/>
<rect x="96.3" y="263.0" width="23.4" height="17.8" rx="2.2" ry="2.2" fill="#4472c4" stroke="#355ca8" stroke-width="1.0"/>
<rect x="162.8" y="263.4" width="135.8" height="18.2" rx="2.6" ry="2.6" fill="#d6dce8" stroke="#4c74c0" stroke-width="1.0"/>
<rect x="230.5" y="263.4" width="23.1" height="18.2" rx="2.2" ry="2.2" fill="#4472c4" stroke="#355ca8" stroke-width="1.0"/>
<rect x="321.3" y="262.3" width="71.0" height="18.0" rx="2.6" ry="2.6" fill="#4472c4" stroke="#355ca8" stroke-width="1.0"/>
<rect x="331.8" y="262.8" width="3.6" height="17" fill="#dde3ee"/>
<rect x="366.5" y="262.8" width="3.9" height="17" fill="#dde3ee"/>
<rect x="323.2" y="263" width="0.7" height="16.6" fill="#b8c8e8" fill-opacity="0.8"/>
<rect x="335.2" y="262.5" width="31.6" height="17.6" rx="2.6" ry="2.6" fill="#c5e0b4" stroke="#6484a8" stroke-width="1.0"/>
<rect x="414.8" y="262.4" width="89.8" height="17.8" rx="2.6" ry="2.6" fill="#d6dce8" stroke="#5070b4" stroke-width="1.0"/>
<rect x="452.3" y="262.4" width="52.3" height="17.8" rx="2.6" ry="2.6" fill="#c5e0b4" stroke="#4c6c88" stroke-width="1.0"/>
<text class="ss" x="186.6" y="194.9" font-size="11.1" text-anchor="middle" fill="#0c0c0c">Chr07</text>
<text class="ss" x="423.4" y="194.9" font-size="11.1" text-anchor="middle" fill="#0c0c0c">Chr08</text>
<text class="ss" x="224.0" y="212.2" font-size="10.4" text-anchor="start" fill="#0c0c0c">(30313 bp)</text>
<text class="ss" x="466.0" y="212.6" font-size="10.5" text-anchor="start" fill="#0c0c0c">(30194 bp)</text>
<text class="ss" x="84.6" y="296.0" font-size="11.1" text-anchor="middle" fill="#0c0c0c">Chr04</text>
<text class="ss" x="84.1" y="309.9" font-size="10.4" text-anchor="middle" fill="#0c0c0c">(36161 bp)</text>
<text class="ss" x="239.8" y="296.6" font-size="11.1" text-anchor="middle" fill="#0c0c0c">Chr01</text>
<text class="ss" x="239.6" y="311.8" font-size="10.3" text-anchor="middle" fill="#0c0c0c">(46518 bp)</text>
<text class="ss" x="356.9" y="294.0" font-size="11.1" text-anchor="middle" fill="#0c0c0c">Chr23</text>
<text class="ss" x="358.1" y="313.2" font-size="10.3" text-anchor="middle" fill="#0c0c0c">(23637 bp)</text>
<text class="ss" x="469.0" y="295.9" font-size="11.1" text-anchor="middle" fill="#0c0c0c">Chr10</text>
<text class="ss" x="471.0" y="315.5" font-size="10.4" text-anchor="middle" fill="#0c0c0c">(29864 bp)</text>
<text class="ss" x="18.3" y="206.5" font-size="11.5" text-anchor="start" fill="#0c0c0c" font-weight="bold" font-style="italic">C. macrorhizon</text>
<text class="ss" x="18.4" y="257.8" font-size="11.4" text-anchor="start" fill="#0c0c0c" font-weight="bold" font-style="italic">C. lancifolium</text>
</g>
</svg></body></html>
